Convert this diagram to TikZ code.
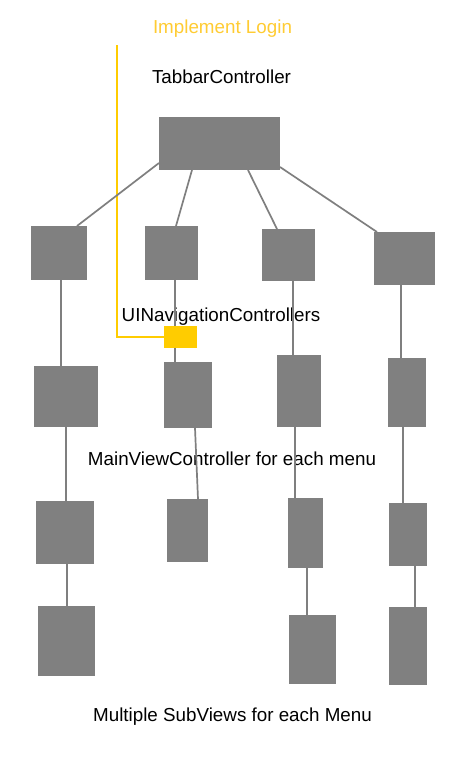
\documentclass[tikz,border=0pt]{standalone}
\usepackage{fontspec}
\setmainfont{Liberation Sans}
\definecolor{boxgray}{HTML}{808080}
\definecolor{linegray}{HTML}{7F7F7F}
\definecolor{loginyellow}{HTML}{FFCC00}
\definecolor{textyellow}{HTML}{FFCC33}
\begin{document}
\begin{tikzpicture}[x=1pt,y=-1pt,
  vc/.style={fill=boxgray, draw=none, inner sep=0pt, outer sep=0pt},
  ybox/.style={fill=loginyellow, draw=none, inner sep=0pt, outer sep=0pt},
  conn/.style={draw=linegray, line width=1.7pt},
  yconn/.style={draw=loginyellow, line width=1.8pt},
  lbl/.style={inner sep=0pt, anchor=base, font=\fontsize{18.8}{22}\selectfont},
]
\fill[white] (0,0) rectangle (474,758);
\useasboundingbox (0,0) rectangle (474,758);

% labels
\node[lbl, text=textyellow] (tlogin) at (222.5,33) {Implement Login};
\node[lbl] (ttab) at (221.5,83) {TabbarController};
\node[lbl] (tnav) at (221,321) {UINavigationControllers};
\node[lbl] (tmain) at (232,465) {MainViewController for each menu};
\node[lbl] (tsub) at (232.5,721) {Multiple SubViews for each Menu};

% boxes
\node[vc, minimum width=121pt, minimum height=53pt] (top) at (219.5,143.5) {};
\node[vc, minimum width=56pt, minimum height=54pt] (A1) at (59,253) {};
\node[vc, minimum width=53pt, minimum height=54pt] (B1) at (171.5,253) {};
\node[vc, minimum width=53pt, minimum height=52pt] (C1) at (288.5,255) {};
\node[vc, minimum width=61pt, minimum height=53pt] (D1) at (404.5,258.5) {};
\node[ybox, minimum width=33pt, minimum height=22pt] (Y) at (180.5,337) {};
\node[vc, minimum width=64pt, minimum height=61pt] (A2) at (66,396.5) {};
\node[vc, minimum width=48pt, minimum height=66pt] (B2) at (188,395) {};
\node[vc, minimum width=44pt, minimum height=72pt] (C2) at (299,391) {};
\node[vc, minimum width=38pt, minimum height=69pt] (D2) at (407,392.5) {};
\node[vc, minimum width=58pt, minimum height=63pt] (A3) at (65,532.5) {};
\node[vc, minimum width=41pt, minimum height=63pt] (B3) at (187.5,530.5) {};
\node[vc, minimum width=35pt, minimum height=70pt] (C3) at (305.5,533) {};
\node[vc, minimum width=38pt, minimum height=63pt] (D3) at (408,534.5) {};
\node[vc, minimum width=57pt, minimum height=70pt] (A4) at (66.5,641) {};
\node[vc, minimum width=47pt, minimum height=69pt] (C4) at (312.5,649.5) {};
\node[vc, minimum width=38pt, minimum height=78pt] (D4) at (408,646) {};

% login connector
\coordinate (lstart) at (117,45);
\draw[yconn] (lstart) |- (Y.west);

% connectors
\draw[conn] ([yshift=7pt]top.south west) -- ([xshift=18pt]A1.north);
\draw[conn] ([xshift=-27.5pt]top.south) -- ([xshift=4.5pt]B1.north);
\draw[conn] ([xshift=28.5pt]top.south) -- ([xshift=-11.5pt]C1.north);
\draw[conn] ([yshift=3pt]top.south east) -- ([xshift=3pt]D1.north west);

\draw[conn] ([xshift=2pt]A1.south) -- ([xshift=-5pt]A2.north);
\draw[conn] ([xshift=0pt]A2.south) -- ([xshift=1pt]A3.north);
\draw[conn] ([xshift=2pt]A3.south) -- ([xshift=0.5pt]A4.north);

\draw[conn] ([xshift=3.5pt]B1.south) -- ([xshift=-5.5pt]Y.north);
\draw[conn] ([xshift=-5.5pt]Y.south) -- ([xshift=-13pt]B2.north);
\draw[conn] ([xshift=7pt]B2.south) -- ([xshift=10.5pt]B3.north);

\draw[conn] ([xshift=4.5pt]C1.south) -- ([xshift=-6pt]C2.north);
\draw[conn] ([xshift=-4pt]C2.south) -- ([xshift=-10.5pt]C3.north);
\draw[conn] ([xshift=1.5pt]C3.south) -- ([xshift=-5.5pt]C4.north);

\draw[conn] ([xshift=-3.5pt]D1.south) -- ([xshift=-6pt]D2.north);
\draw[conn] ([xshift=-4pt]D2.south) -- ([xshift=-5pt]D3.north);
\draw[conn] ([xshift=7pt]D3.south) -- ([xshift=7pt]D4.north);
\end{tikzpicture}
\end{document}
